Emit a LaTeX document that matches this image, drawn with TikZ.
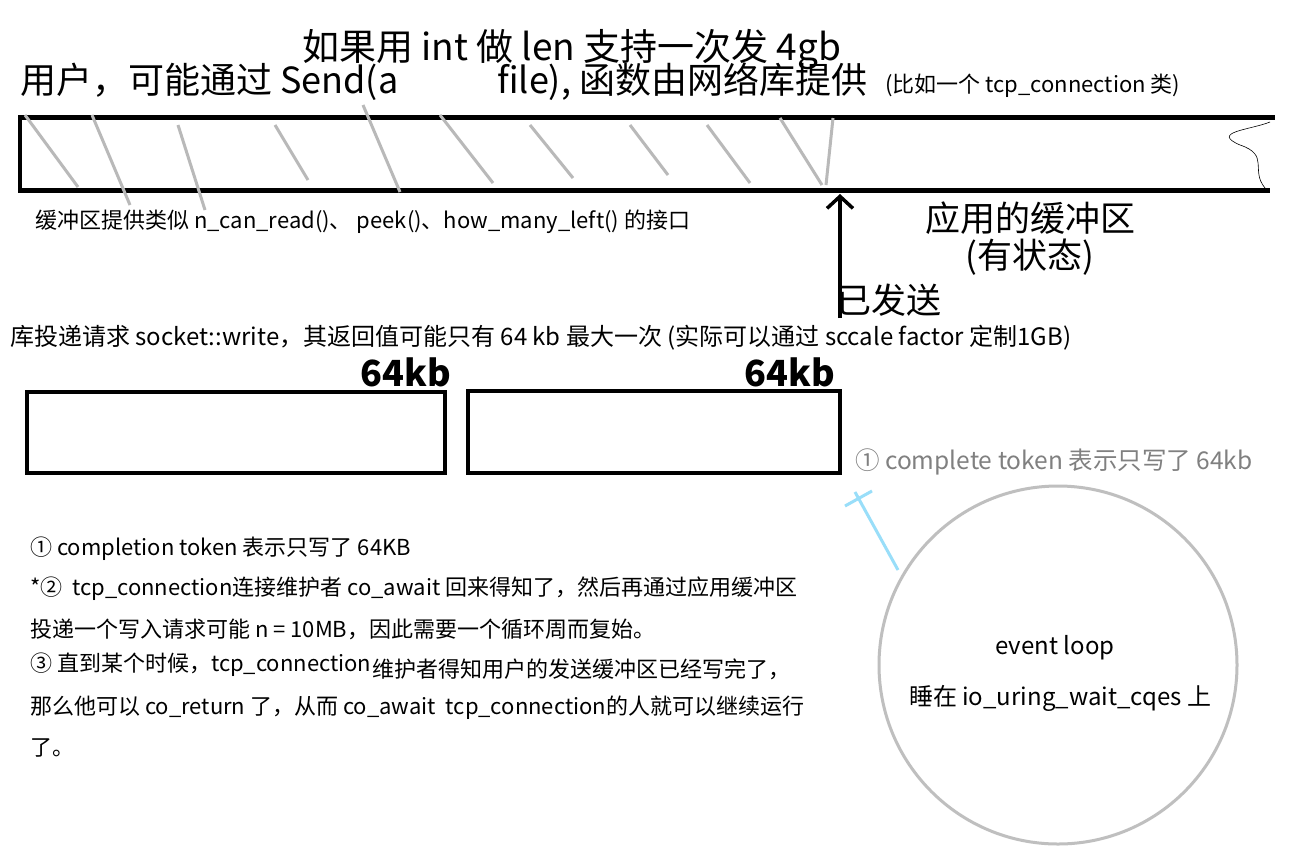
\documentclass[tikz,border=0pt]{standalone}
\usepackage{fontspec}
\setmainfont{Noto Sans CJK SC}
\usetikzlibrary{arrows.meta}
\begin{document}
\begin{tikzpicture}[x=1pt,y=-1pt,
  txt/.style={anchor=west,inner sep=0pt},
  hatch/.style={draw=gray!55,line width=3pt},
  thick box/.style={draw=black,line width=4pt}]
\useasboundingbox[fill=white] (0,0) rectangle (1308,847);
% top texts
\node[txt,font=\fontsize{37}{37}\selectfont] (t1) at (302,50) {如果用 int 做 len 支持一次发 4gb};
\node[txt,font=\fontsize{36}{36}\selectfont] (t2) at (20,82) {用户，可能通过 Send(a};
\node[txt,font=\fontsize{36}{36}\selectfont] (t3) at (497,82) {file), 函数由网络库提供};
\node[txt,font=\fontsize{22}{22}\selectfont] (t4) at (885,86) {(比如一个 tcp\_connection 类)};
% buffer
\draw[line width=5pt] (18,117) -- (1275,117);
\draw[line width=5pt] (18,190) -- (1270,190);
\draw[line width=4pt] (20,115) -- (20,192);
\draw[line width=0.6pt] (1270,122) .. controls (1250,130) and (1210,132) .. (1240,145) .. controls (1270,155) and (1250,170) .. (1265,188);
\foreach \a/\b/\c/\d in {25/115/78/187, 92/115/130/205, 178/125/205/210, 275/125/308/180, 363/105/400/192, 440/115/493/183, 530/125/573/178, 630/125/668/175, 707/125/750/183, 780/118/822/185, 833/118/826/185}
  \draw[hatch] (\a,\b) -- (\c,\d);
\node[txt,font=\fontsize{22}{22}\selectfont] (b1) at (35,222) {缓冲区提供类似 n\_can\_read()、 peek()、how\_many\_left() 的接口};
\node[font=\fontsize{35}{35}\selectfont,inner sep=0pt] (b2) at (1030,218) {应用的缓冲区};
\node[font=\fontsize{35}{35}\selectfont,inner sep=0pt] (b3) at (1030,257) {(有状态)};
\coordinate (abot) at (840,318);
\coordinate (atop) at (840,194);
\draw[line width=3.5pt,-{Straight Barb[length=12pt,width=26pt,line width=3.5pt]}] (abot) -- (atop);
\node[txt,font=\fontsize{35}{35}\selectfont] (sent) at (836,300) {已发送};
\node[txt,font=\fontsize{24}{24}\selectfont] (lib) at (10,338) {库投递请求 socket::write，其返回值可能只有 64 kb 最大一次 (实际可以通过 sccale factor 定制1GB)};
\node[font=\bfseries\fontsize{36}{36}\selectfont,inner sep=0pt] (k1) at (406,372) {64kb};
\node[font=\bfseries\fontsize{36}{36}\selectfont,inner sep=0pt] (k2) at (790,372) {64kb};
\draw[thick box] (27,392) rectangle (445,473);
\draw[thick box] (468,391) rectangle (840,473);
\node[txt,text=gray,font=\fontsize{24.5}{24.5}\selectfont] (ct) at (855,462) {① complete token 表示只写了 64kb};
% circle
\node[circle,draw=gray!50,line width=3pt,minimum size=358pt,inner sep=0pt] (loop) at (1058,665) {};
\node[font=\fontsize{24}{24}\selectfont,inner sep=0pt] (el) at (1055,648) {event loop};
\node[font=\fontsize{24}{24}\selectfont,inner sep=0pt] (sl) at (1060,698) {睡在 io\_uring\_wait\_cqes 上};
\coordinate (cy1) at (898,570);
\coordinate (cy2) at (855,492);
\draw[cyan!40,line width=3pt] (cy1) -- (cy2);
\draw[cyan!40,line width=3pt] (845,506) -- (872,491);
% notes
\begin{scope}[every node/.style={txt,font=\fontsize{22}{22}\selectfont}]
\node (n1) at (30,549) {① completion token 表示只写了 64KB};
\node (n2) at (30,589) {*② \ tcp\_connection连接维护者 co\_await 回来得知了，然后再通过应用缓冲区};
\node (n3) at (30,629) {投递一个写入请求可能 n = 10MB，因此需要一个循环周而复始。};
\node (n4) at (30,665) {③ 直到某个时候，tcp\_connection};
\node (n4b) at (372,669) {维护者得知用户的发送缓冲区已经写完了，};
\node (n5) at (30,708) {那么他可以 co\_return 了，从而 co\_await \ tcp\_connection的人就可以继续运行};
\node (n6) at (30,748) {了。};
\end{scope}
\end{tikzpicture}
\end{document}
